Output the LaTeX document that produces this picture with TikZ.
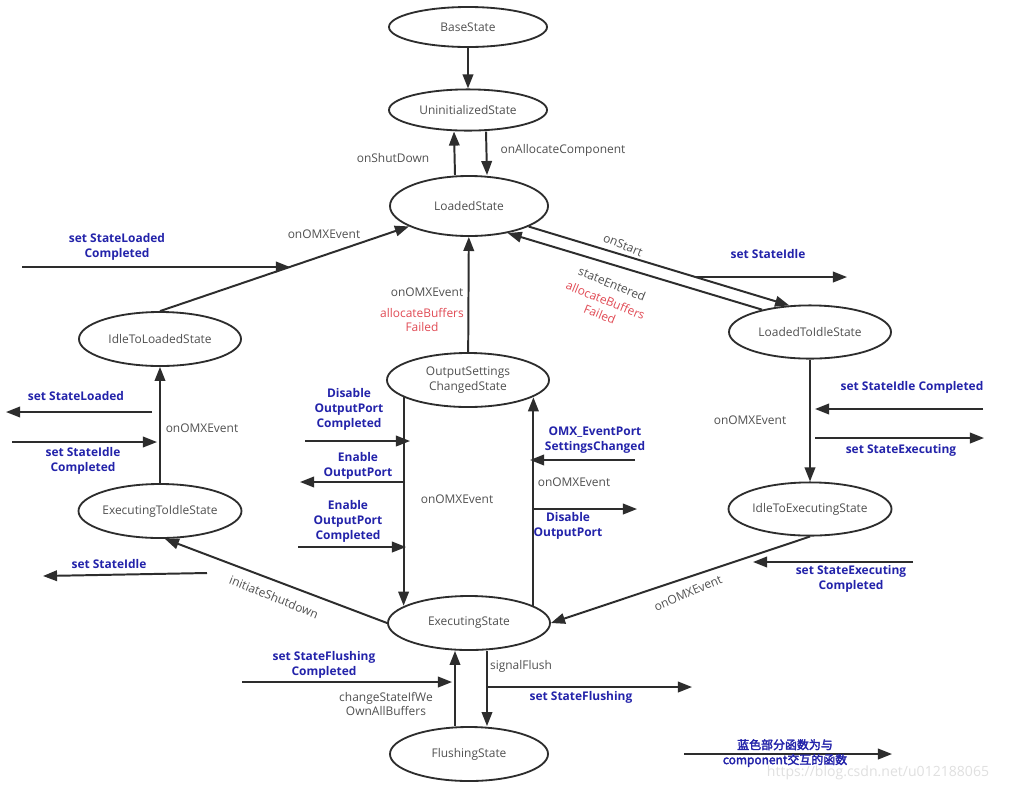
\documentclass[tikz,border=0pt]{standalone}
\usepackage{fontspec}
\setmainfont{Open Sans}
\newfontfamily\cjk{Noto Sans CJK SC}[AutoFakeBold=2.5]
\usetikzlibrary{shapes.geometric}
\usetikzlibrary{arrows.meta}
\usetikzlibrary{calc}

\definecolor{lncol}{RGB}{45,45,45}
\definecolor{txtcol}{RGB}{80,80,80}
\definecolor{fnblue}{RGB}{35,35,170}
\definecolor{fnred}{RGB}{225,75,85}

\tikzset{
  st/.style={ellipse,draw=lncol,line width=1.3pt,text=txtcol,inner sep=0pt,
    minimum width=4.05cm,minimum height=1.35cm,align=center,
    font=\fontsize{8.5}{10.6}\selectfont},
  tr/.style={draw=lncol,line width=1.4pt,-{Triangle[length=10pt,width=7.5pt]}},
  ev/.style={text=txtcol,font=\fontsize{8.5}{10.6}\selectfont,align=center,inner sep=1pt},
  fn/.style={text=fnblue,font=\bfseries\fontsize{8.5}{10.6}\selectfont,align=center,inner sep=1pt},
  err/.style={text=fnred,font=\fontsize{8.5}{10.6}\selectfont,align=center,inner sep=1pt}
}

\begin{document}
\begin{tikzpicture}[x=0.025cm,y=-0.025cm]
\useasboundingbox[fill=white] (0,0) rectangle (1010,791);

% states
\node[st,minimum width=3.95cm,minimum height=1cm] (base) at (468,27) {BaseState};
\node[st,minimum width=3.95cm,minimum height=1.03cm] (uninit) at (468,110) {UninitializedState};
\node[st,minimum width=3.95cm,minimum height=1.5cm] (loaded) at (469,206) {LoadedState};
\node[st] (itl) at (160,339) {IdleToLoadedState};
\node[st] (eti) at (160,511) {ExecutingToIdleState};
\node[st] (output) at (468,380) {OutputSettings\\ChangedState};
\node[st,minimum height=1.33cm] (lti) at (810,332) {LoadedToIdleState};
\node[st,minimum height=1.33cm] (ite) at (810,509) {IdleToExecutingState};
\node[st] (executing) at (469,623) {ExecutingState};
\node[st,minimum width=3.95cm] (flushing) at (469,754) {FlushingState};

% transitions
\draw[tr] (base) -- (uninit);
\draw[tr] ([xshift=-0.35cm]loaded.north) -- ([xshift=-0.35cm]uninit.south);
\draw[tr] ([xshift=0.45cm]uninit.south) -- ([xshift=0.45cm]loaded.north);
\node[ev] (lshut) at (393,158) {onShutDown};
\node[ev] (lalloc) at (563,150) {onAllocateComponent};

\draw[tr] (itl.north) -- (loaded);
\node[ev] (litl) at (324,234) {onOMXEvent};
\draw[tr] (loaded.-19) -- (lti.128);
\draw[tr] (lti.155) -- (loaded.-35);
\node[ev,rotate=-22] (lstart) at (623,245) {onStart};
\node[ev,rotate=-22] (lentered) at (606,299) {stateEntered\\[2pt]
  \textcolor{fnred}{allocateBuffers}\\\textcolor{fnred}{Failed}};

\draw[tr] (output) -- (loaded);
\node[ev] (lout) at (427,292) {onOMXEvent};
\node[err] (lfail2) at (422,320) {allocateBuffers\\Failed};

\draw[tr] (eti) -- (itl);
\node[ev] (leti) at (202,428) {onOMXEvent};
\draw[tr] (lti) -- (ite);
\node[ev] (llti) at (750,420) {onOMXEvent};

\draw[tr] (output.195) -- (output.195 |- executing.165);
\draw[tr] (executing.15) -- (executing.15 |- output.345);
\node[ev] (ldown) at (457,499) {onOMXEvent};
\node[ev] (lup) at (574,482) {onOMXEvent};

\draw[tr] (executing.west) -- (eti.-80);
\node[ev,rotate=-22] (lshutdown) at (274,597) {initiateShutdown};
\draw[tr] (ite.south) -- (executing.east);
\node[ev,rotate=23] (lite) at (688,593) {onOMXEvent};

\draw[tr] ([xshift=0.45cm]executing.south) -- ([xshift=0.45cm]flushing.north);
\draw[tr] ([xshift=-0.35cm]flushing.north) -- ([xshift=-0.35cm]executing.south);
\node[ev] (lflush) at (521,666) {signalFlush};
\node[ev] (lown) at (386,704) {changeStateIfWe\\OwnAllBuffers};

% component calls
\coordinate (a1) at (22,267); \coordinate (b1) at (290,267);
\draw[tr] (a1) -- (b1);
\node[fn] (f1) at (117,247) {set StateLoaded\\Completed};
\coordinate (a2) at (152,412); \coordinate (b2) at (6,412);
\draw[tr] (a2) -- (b2);
\node[fn] (f2) at (76,396) {set StateLoaded};
\coordinate (a3) at (12,442); \coordinate (b3) at (157,442);
\draw[tr] (a3) -- (b3);
\node[fn] (f3) at (83,461) {set StateIdle\\Completed};
\coordinate (a4) at (305,441); \coordinate (b4) at (410,441);
\draw[tr] (a4) -- (b4);
\node[fn] (f4) at (349,409) {Disable\\OutputPort\\Completed};
\coordinate (a5) at (405,482); \coordinate (b5) at (300,482);
\draw[tr] (a5) -- (b5);
\node[fn] (f5) at (358,466) {Enable\\OutputPort};
\coordinate (a6) at (298,547); \coordinate (b6) at (406,547);
\draw[tr] (a6) -- (b6);
\node[fn] (f6) at (348,521) {Enable\\OutputPort\\Completed};
\coordinate (a7) at (635,460); \coordinate (b7) at (530,460);
\draw[tr] (a7) -- (b7);
\node[fn] (f7) at (595,440) {OMX\_EventPort\\SettingsChanged};
\coordinate (a8) at (532,509); \coordinate (b8) at (637,509);
\draw[tr] (a8) -- (b8);
\node[fn] (f8) at (568,526) {Disable\\OutputPort};
\coordinate (a9) at (695,277); \coordinate (b9) at (847,277);
\draw[tr] (a9) -- (b9);
\node[fn] (f9) at (768,254) {set StateIdle};
\coordinate (a10) at (983,409); \coordinate (b10) at (815,409);
\draw[tr] (a10) -- (b10);
\node[fn] (f10) at (912,387) {set StateIdle Completed};
\coordinate (a11) at (815,438); \coordinate (b11) at (984,438);
\draw[tr] (a11) -- (b11);
\node[fn] (f11) at (901,450) {set StateExecuting};
\coordinate (a12) at (207,573); \coordinate (b12) at (43,576);
\draw[tr] (a12) -- (b12);
\node[fn] (f12) at (109,564) {set StateIdle};
\coordinate (a13) at (913,562); \coordinate (b13) at (753,562);
\draw[tr] (a13) -- (b13);
\node[fn] (f13) at (851,579) {set StateExecuting\\Completed};
\coordinate (a14) at (242,682); \coordinate (b14) at (452,682);
\draw[tr] (a14) -- (b14);
\node[fn] (f14) at (324,665) {set StateFlushing\\Completed};
\coordinate (a15) at (487,687); \coordinate (b15) at (692,687);
\draw[tr] (a15) -- (b15);
\node[fn] (f15) at (581,697) {set StateFlushing};

% legend
\coordinate (a16) at (684,754); \coordinate (b16) at (892,754);
\draw[tr] (a16) -- (b16);
\node[fn,font=\bfseries\fontsize{8.5}{10.6}\selectfont\cjk] (f16) at (785,753) {蓝色部分函数为与\\component交互的函数};
\node[text=black!12,font=\fontsize{10}{12}\selectfont] (wm) at (878,773) {https://blog.csdn.net/u012188065};

\end{tikzpicture}
\end{document}
